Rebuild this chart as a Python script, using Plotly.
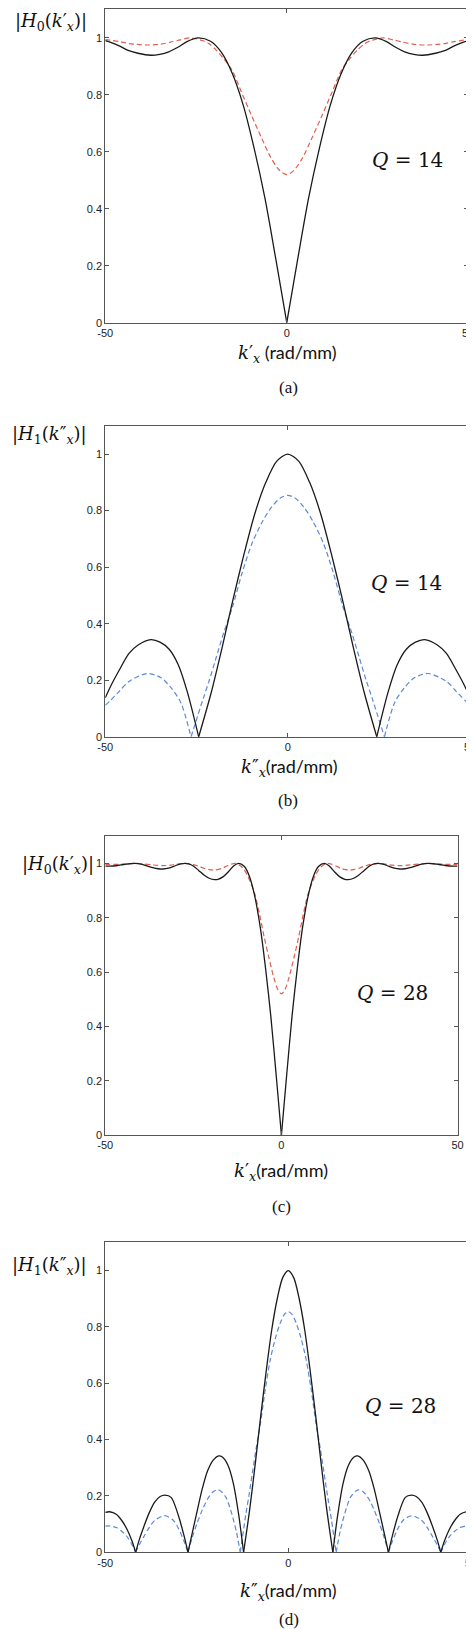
import plotly.graph_objects as go

W, H = 474, 1629

# ---- (a) Q = 14, |H0(k'x)| ----
a_black_x = [-50, -48.5, -46, -43.5, -41, -37.5, -35, -32.5, -30, -27.5, -24.4, -21, -18, -15, -12, -9, -6, -3, 0,
             None, 0, 3, 6, 9, 12, 15, 18, 21, 24.4, 27.5, 30, 32.5, 35, 37.5, 41, 43.5, 46, 48.5, 50]
a_black_y = [0.990, 0.984, 0.971, 0.955, 0.946, 0.939, 0.942, 0.951, 0.967, 0.987, 1.0, 0.988, 0.949, 0.875, 0.764, 0.613, 0.436, 0.222, 0.0,
             None, 0.0, 0.222, 0.436, 0.613, 0.764, 0.875, 0.949, 0.988, 1.0, 0.987, 0.967, 0.951, 0.942, 0.939, 0.946, 0.955, 0.971, 0.984, 0.990]
a_red_x = [-50, -48.7, -46.1, -43.4, -38.5, -34.7, -32, -29.3, -26.5, -23.1, -21.5, -19.5, -17.5, -15.1, -12.5, -9.8, -7, -4.4, -2, 0,
           2, 4.4, 7, 9.8, 12.5, 15.1, 17.5, 19.5, 21.5, 23.1, 26.5, 29.3, 32, 34.7, 38.5, 43.4, 46.1, 48.7, 50]
a_red_y = [0.994, 0.992, 0.987, 0.980, 0.975, 0.978, 0.985, 0.993, 1.0, 0.990, 0.980, 0.958, 0.929, 0.887, 0.81, 0.73, 0.65, 0.58, 0.535, 0.52,
           0.535, 0.58, 0.65, 0.73, 0.81, 0.887, 0.929, 0.958, 0.980, 0.990, 1.0, 0.993, 0.985, 0.978, 0.975, 0.980, 0.987, 0.992, 0.994]

# ---- (b) Q = 14, |H1(k''x)| ----
b_black_x = [-50, -48.5, -46, -43.5, -41, -37.5, -35, -32.5, -30, -27.5, -24.4,
             None, -24.4, -21, -18, -15, -12, -9, -6, -3, 0, 3, 6, 9, 12, 15, 18, 21, 24.4,
             None, 24.4, 27.5, 30, 32.5, 35, 37.5, 41, 43.5, 46, 48.5, 50]
b_black_y = [0.138, 0.18, 0.24, 0.295, 0.325, 0.344, 0.335, 0.31, 0.255, 0.158, 0.0,
             None, 0.0, 0.155, 0.315, 0.485, 0.645, 0.79, 0.90, 0.975, 1.0, 0.975, 0.90, 0.79, 0.645, 0.485, 0.315, 0.155, 0.0,
             None, 0.0, 0.158, 0.255, 0.31, 0.335, 0.344, 0.325, 0.295, 0.24, 0.18, 0.138]
b_blue_x = [-50, -48.7, -46.1, -43.4, -38.5, -34.7, -32, -29.3, -26.5,
            None, -26.5, -23.1, -21.5, -19.5, -17.5, -15.1, -12.5, -9.8, -7, -4.4, -2, 0,
            2, 4.4, 7, 9.8, 12.5, 15.1, 17.5, 19.5, 21.5, 23.1, 26.5,
            None, 26.5, 29.3, 32, 34.7, 38.5, 43.4, 46.1, 48.7, 50]
b_blue_y = [0.112, 0.127, 0.162, 0.197, 0.224, 0.209, 0.174, 0.121, 0.0,
            None, 0.0, 0.138, 0.20, 0.285, 0.37, 0.461, 0.58, 0.684, 0.76, 0.813, 0.845, 0.854,
            0.845, 0.813, 0.76, 0.684, 0.58, 0.461, 0.37, 0.285, 0.20, 0.138, 0.0,
            None, 0.0, 0.121, 0.174, 0.209, 0.224, 0.197, 0.162, 0.127, 0.112]

# ---- (c) Q = 28, |H0(k'x)| ----
c_black_x = [-50, -48.8, -47, -45.5, -44, -41.7, -39.5, -38, -36.5, -35, -33.7, -32, -30, -28.5, -27.4, -26.3, -25,
             -23.5, -22, -20.5, -19, -18, -16.5, -15, -13.5, -12.2, -10.5, -9, -7.5, -6, -4.5, -3, -1.5, 0,
             None, 0, 1.5, 3, 4.5, 6, 7.5, 9, 10.5, 12.2, 13.5, 15, 16.5, 18, 19, 20.5, 22, 23.5,
             25, 26.3, 27.4, 28.5, 30, 32, 33.7, 35, 36.5, 38, 39.5, 41.7, 44, 45.5, 47, 48.8, 50]
c_black_y = [0.990, 0.990, 0.991, 0.994, 0.997, 1.0, 0.996, 0.990, 0.984, 0.980, 0.979, 0.982, 0.992, 0.998, 1.0, 0.998, 0.990,
             0.974, 0.957, 0.945, 0.940, 0.941, 0.951, 0.970, 0.991, 1.0, 0.988, 0.949, 0.875, 0.764, 0.613, 0.436, 0.222, 0.0,
             None, 0.0, 0.222, 0.436, 0.613, 0.764, 0.875, 0.949, 0.988, 1.0, 0.991, 0.970, 0.951, 0.941, 0.940, 0.945, 0.957, 0.974,
             0.990, 0.998, 1.0, 0.998, 0.992, 0.982, 0.979, 0.980, 0.984, 0.990, 0.996, 1.0, 0.997, 0.994, 0.991, 0.990, 0.990]
c_red_x = [-50, -48.8, -47, -44, -41.7, -39.5, -36.5, -33.8, -31.5, -30, -27.4, -25, -23.5, -22, -20.5, -19.3, -17, -15.5,
           -14.2, -13.1, -11.55, -10.75, -9.75, -8.75, -7.55, -6.25, -4.9, -3.5, -2.2, -1, 0,
           1, 2.2, 3.5, 4.9, 6.25, 7.55, 8.75, 9.75, 10.75, 11.55, 13.1, 14.2, 15.5, 17, 19.3, 20.5, 22, 23.5,
           25, 27.4, 30, 31.5, 33.8, 36.5, 39.5, 41.7, 44, 47, 48.8, 50]
c_red_y = [0.996, 0.996, 0.996, 0.998, 1.0, 0.998, 0.994, 0.9915, 0.993, 0.996, 1.0, 0.995, 0.989, 0.982, 0.977, 0.975, 0.981, 0.990,
           0.997, 1.0, 0.990, 0.980, 0.958, 0.929, 0.887, 0.815, 0.729, 0.65, 0.582, 0.535, 0.52,
           0.535, 0.582, 0.65, 0.729, 0.815, 0.887, 0.929, 0.958, 0.980, 0.990, 1.0, 0.997, 0.990, 0.981, 0.975, 0.977, 0.982, 0.989,
           0.995, 1.0, 0.996, 0.993, 0.9915, 0.994, 0.998, 1.0, 0.998, 0.996, 0.996, 0.996]

# ---- (d) Q = 28, |H1(k''x)| ----
d_black_x = [-50, -48.8, -47, -45.5, -44, -42.7, -41.7,
             None, -41.7, -40.7, -39.5, -38, -36.5, -35, -33.7, -32, -30, -28.5, -27.4,
             None, -27.4, -26.3, -25, -23.5, -22, -20.5, -19, -18, -16.5, -15, -13.5, -12.2,
             None, -12.2, -10.5, -9, -7.5, -6, -4.5, -3, -1.5, 0, 1.5, 3, 4.5, 6, 7.5, 9, 10.5, 12.2,
             None, 12.2, 13.5, 15, 16.5, 18, 19, 20.5, 22, 23.5, 25, 26.3, 27.4,
             None, 27.4, 28.5, 30, 32, 33.7, 35, 36.5, 38, 39.5, 40.7, 41.7,
             None, 41.7, 42.7, 44, 45.5, 47, 48.8, 50]
d_black_y = [0.142, 0.144, 0.135, 0.113, 0.08, 0.04, 0.0,
             None, 0.0, 0.045, 0.09, 0.14, 0.178, 0.198, 0.203, 0.195, 0.13, 0.06, 0.0,
             None, 0.0, 0.065, 0.14, 0.225, 0.29, 0.327, 0.342, 0.338, 0.31, 0.245, 0.13, 0.0,
             None, 0.0, 0.155, 0.315, 0.485, 0.645, 0.79, 0.90, 0.975, 1.0, 0.975, 0.90, 0.79, 0.645, 0.485, 0.315, 0.155, 0.0,
             None, 0.0, 0.13, 0.245, 0.31, 0.338, 0.342, 0.327, 0.29, 0.225, 0.14, 0.065, 0.0,
             None, 0.0, 0.06, 0.13, 0.195, 0.203, 0.198, 0.178, 0.14, 0.09, 0.045, 0.0,
             None, 0.0, 0.04, 0.08, 0.113, 0.135, 0.144, 0.142]
d_blue_x = [-50, -48.8, -47, -45.5, -44, -42.7, -41.7,
            None, -41.7, -40.7, -39.5, -38, -36.5, -33.8, -31.5, -30, -28.5, -27.4,
            None, -27.4, -26.3, -25, -23.5, -22, -20.5, -19.3, -18.5, -17, -15.5, -14.2, -13.1,
            None, -13.1, -11.55, -10.75, -9.75, -8.75, -7.55, -6.25, -4.9, -3.5, -2.2, -1, 0,
            1, 2.2, 3.5, 4.9, 6.25, 7.55, 8.75, 9.75, 10.75, 11.55, 13.1,
            None, 13.1, 14.2, 15.5, 17, 18.5, 19.3, 20.5, 22, 23.5, 25, 26.3, 27.4,
            None, 27.4, 28.5, 30, 31.5, 33.8, 36.5, 38, 39.5, 40.7, 41.7,
            None, 41.7, 42.7, 44, 45.5, 47, 48.8, 50]
d_blue_y = [0.093, 0.094, 0.088, 0.075, 0.055, 0.027, 0.0,
            None, 0.0, 0.027, 0.055, 0.088, 0.113, 0.13, 0.115, 0.085, 0.04, 0.0,
            None, 0.0, 0.05, 0.10, 0.15, 0.19, 0.215, 0.222, 0.218, 0.195, 0.14, 0.075, 0.0,
            None, 0.0, 0.138, 0.20, 0.285, 0.37, 0.461, 0.58, 0.684, 0.76, 0.813, 0.845, 0.854,
            0.845, 0.813, 0.76, 0.684, 0.58, 0.461, 0.37, 0.285, 0.20, 0.138, 0.0,
            None, 0.0, 0.075, 0.14, 0.195, 0.218, 0.222, 0.215, 0.19, 0.15, 0.10, 0.05, 0.0,
            None, 0.0, 0.04, 0.085, 0.115, 0.13, 0.113, 0.088, 0.055, 0.027, 0.0,
            None, 0.0, 0.027, 0.055, 0.075, 0.088, 0.094, 0.093]

x_ticks = [-50, 0, 50]
x_tick_text = ["-50", "0", "50"]
y_ticks = [0, 0.2, 0.4, 0.6, 0.8, 1]
y_tick_text = ["0", "0.2", "0.4", "0.6", "0.8", "1"]

q_labels = ["14", "14", "28", "28"]
captions = ["(a)", "(b)", "(c)", "(d)"]

BLACK = "#1a1a1a"
RED = "#e0604e"
BLUE = "#5a8ad8"
AXIS = "#555555"
MATH = "DejaVu Serif"

# panel boxes in pixels: left, right, row of y=1, row of y=0
boxes = [(92, 466, 29, 315), (92, 468, 447, 731), (92, 455, 858, 1131), (92, 469, 1267, 1550)]


def px(x):
    return x / W


def py(y):
    return 1 - y / H


fig = go.Figure()

series = [
    (a_black_x, a_black_y, BLACK, "solid", 1), (a_red_x, a_red_y, RED, "5px,3px", 1),
    (b_black_x, b_black_y, BLACK, "solid", 2), (b_blue_x, b_blue_y, BLUE, "5px,3px", 2),
    (c_black_x, c_black_y, BLACK, "solid", 3), (c_red_x, c_red_y, RED, "5px,3px", 3),
    (d_black_x, d_black_y, BLACK, "solid", 4), (d_blue_x, d_blue_y, BLUE, "5px,3px", 4),
]
# dashed curves are drawn under the solid ones like in the original
for xs, ys, color, dash, k in sorted(series, key=lambda s: s[3] == "solid"):
    suffix = "" if k == 1 else str(k)
    fig.add_trace(go.Scatter(
        x=xs, y=ys, mode="lines", xaxis="x" + suffix, yaxis="y" + suffix,
        line=dict(color=color, width=1.3 if dash == "solid" else 1.2, dash=dash, shape="spline", smoothing=0.8),
        connectgaps=False, showlegend=False, hoverinfo="skip",
    ))

axis_common = dict(
    showline=True, linecolor=AXIS, linewidth=1, mirror="ticks", ticks="inside", ticklen=4,
    tickcolor=AXIS, showgrid=False, zeroline=False,
    tickfont=dict(family="Liberation Sans", size=11, color="#222"),
)

layout = {}
for i, (l, r, y1, y0) in enumerate(boxes):
    suffix = "" if i == 0 else str(i + 1)
    unit = y0 - y1
    top = max(y0 - 1.1 * unit, 0.5)
    ymax = (y0 - top) / unit
    layout["xaxis" + suffix] = dict(
        axis_common, domain=[px(l), px(r)], range=[-50, 50], anchor="y" + suffix,
        tickvals=x_ticks, ticktext=x_tick_text,
    )
    layout["yaxis" + suffix] = dict(
        axis_common, domain=[py(y0), py(top)], range=[0, ymax], anchor="x" + suffix,
        tickvals=y_ticks, ticktext=y_tick_text,
    )

fig.update_layout(
    width=W, height=H, margin=dict(l=0, r=0, t=0, b=0),
    paper_bgcolor="white", plot_bgcolor="white", **layout,
)

sans = "font-family:Lato"
xt_a = "<i>k</i>′<sub><i>x</i></sub><span style='%s'> (rad/mm)</span>" % sans
xt_b = "<i>k</i>″<sub><i>x</i></sub><span style='%s'>(rad/mm)</span>" % sans
yt_a = "|<i>H</i><sub>0</sub>(<i>k</i>′<sub><i>x</i></sub>)|"
yt_b = "|<i>H</i><sub>1</sub>(<i>k</i>″<sub><i>x</i></sub>)|"

x_titles = [xt_a, xt_b, xt_b.replace("″", "′"), xt_b]
y_titles = [yt_a, yt_b, yt_a, yt_b]

# label positions in pixels
x_title_pos = [(280, 346), (282, 762), (273, 1168), (281, 1589)]
y_title_pos = [(36, 13), (35, 428), (43, 860), (35, 1262)]
q_pos = [(403, 152), (402, 576), (388, 988), (396, 1403)]
cap_pos = [(281, 380), (280, 795), (274, 1203), (281, 1617)]

ann = []
for i in range(4):
    ann.append(dict(text=x_titles[i], x=px(x_title_pos[i][0]), y=py(x_title_pos[i][1]),
                    font=dict(family=MATH, size=18, color="#111")))
    ann.append(dict(text=y_titles[i], x=px(y_title_pos[i][0]), y=py(y_title_pos[i][1]),
                    font=dict(family=MATH, size=18, color="#111")))
    ann.append(dict(text="<i>Q</i> = " + q_labels[i], x=px(q_pos[i][0]), y=py(q_pos[i][1]),
                    font=dict(family=MATH, size=20, color="#111")))
    ann.append(dict(text=captions[i], x=px(cap_pos[i][0]), y=py(cap_pos[i][1]),
                    font=dict(family="Liberation Serif", size=17, color="#111")))
for a in ann:
    a.update(xref="paper", yref="paper", showarrow=False, xanchor="center", yanchor="middle")
fig.update_layout(annotations=ann)

fig.write_html("out.html")
